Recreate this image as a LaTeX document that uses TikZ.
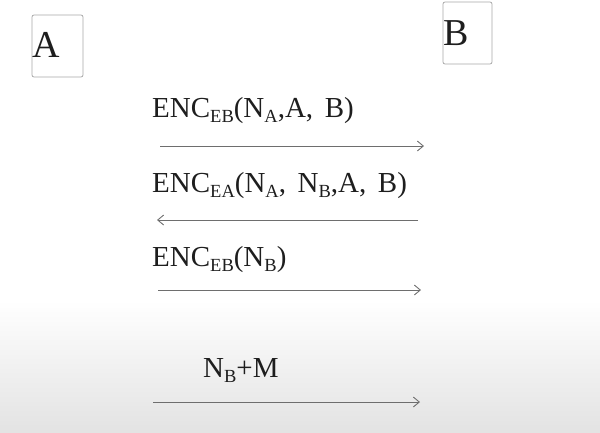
\documentclass[tikz,border=0pt]{standalone}
\usepackage{fontspec}
\setmainfont{Liberation Serif}
\usetikzlibrary{arrows.meta}
\newcommand\lo[1]{\raisebox{-5pt}{\fontsize{18.5pt}{18.5pt}\selectfont #1}}
\definecolor{inkc}{HTML}{1E1E1E}
\definecolor{arrc}{HTML}{6E6E6E}
\definecolor{boxc}{HTML}{A8A8A8}
\tikzset{
  party/.style={draw=boxc, line width=0.8pt, rounded corners=2pt, inner sep=0pt},
  partyname/.style={inner sep=0pt, anchor=base west, text=inkc, font=\fontsize{38pt}{38pt}\selectfont},
  msg/.style={inner sep=0pt, anchor=base west, text=inkc, font=\fontsize{29pt}{29pt}\selectfont},
  flow/.style={draw=arrc, line width=0.9pt, -{Straight Barb[length=6pt,width=10pt]}}
}
\begin{document}
\begin{tikzpicture}[x=1pt,y=-1pt]
\useasboundingbox (0,0) rectangle (600,432);
\shade[top color=white, bottom color=black!11] (0,300) rectangle (600,432);
% parties
\node[party, minimum width=51pt, minimum height=62pt] (boxA) at (57.5,46) {};
\node[partyname] (nameA) at (32.5,57) {A};
\node[party, minimum width=49pt, minimum height=62pt] (boxB) at (467.5,33) {};
\node[partyname] (nameB) at (443,45) {B};
% messages
\node[msg] (m1) at (152,117) {ENC\lo{EB}(N\lo{A},A,\hspace{0.4em}B)};
\coordinate (s1) at (160,146); \coordinate (e1) at (424,146);
\draw[flow] (s1) -- (e1);
\node[msg] (m2) at (152,192) {ENC\lo{EA}(N\lo{A},\hspace{0.4em}N\lo{B},A,\hspace{0.4em}B)};
\coordinate (s2) at (418,220); \coordinate (e2) at (157,220);
\draw[flow] (s2) -- (e2);
\node[msg] (m3) at (152,266) {ENC\lo{EB}(N\lo{B})};
\coordinate (s3) at (158,290); \coordinate (e3) at (421,290);
\draw[flow] (s3) -- (e3);
\node[msg] (m4) at (203,377) {N\lo{B}+M};
\coordinate (s4) at (153,402); \coordinate (e4) at (420,402);
\draw[flow] (s4) -- (e4);
\end{tikzpicture}
\end{document}
